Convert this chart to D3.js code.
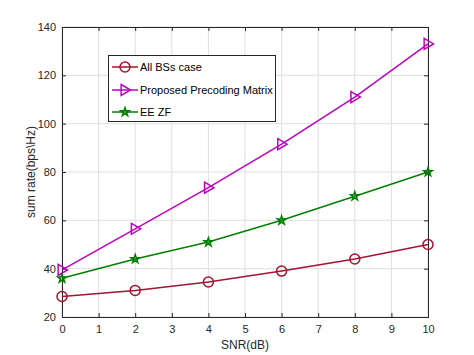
<!DOCTYPE html>
<html><head><meta charset="utf-8">
<script src="https://cdn.jsdelivr.net/npm/d3@7"></script>
<style>body{margin:0;background:#fff}svg{display:block}text{font-family:Arial,"Liberation Sans",sans-serif}</style>
</head><body>
<svg id="c" width="474" height="355"></svg>
<script>
const snr = [0, 2, 4, 6, 8, 10];
const allBS = [28.5, 31, 34.5, 39, 44, 50];
const proposed = [39.5, 56.5, 73.5, 91.5, 111, 133];
const eeZF = [36, 44, 51, 60, 70, 80];
const xTicks = [0,1,2,3,4,5,6,7,8,9,10];
const yTicks = [20,40,60,80,100,120,140];
const seriesNames = ["All BSs case", "Proposed Precoding Matrix", "EE ZF"];

const svg = d3.select("#c");
const L = 62, R = 428, T = 27, B = 317;
const x = d3.scaleLinear().domain([0,10]).range([L,R]);
const y = d3.scaleLinear().domain([20,140]).range([B,T]);

// grid
svg.append("g").selectAll("line").data(xTicks).join("line")
  .attr("x1",d=>x(d)).attr("x2",d=>x(d)).attr("y1",T).attr("y2",B)
  .attr("stroke","#dfdfdf").attr("stroke-width",1);
svg.append("g").selectAll("line").data(yTicks).join("line")
  .attr("y1",d=>y(d)).attr("y2",d=>y(d)).attr("x1",L).attr("x2",R)
  .attr("stroke","#dfdfdf").attr("stroke-width",1);

// axes
const xa = svg.append("g").attr("transform",`translate(0,${B})`)
  .call(d3.axisBottom(x).tickValues(xTicks).tickSize(-4).tickPadding(8));
const xa2 = svg.append("g").attr("transform",`translate(0,${T})`)
  .call(d3.axisTop(x).tickValues(xTicks).tickSize(-4).tickFormat(""));
const ya = svg.append("g").attr("transform",`translate(${L},0)`)
  .call(d3.axisLeft(y).tickValues(yTicks).tickSize(-4).tickPadding(6));
const ya2 = svg.append("g").attr("transform",`translate(${R},0)`)
  .call(d3.axisRight(y).tickValues(yTicks).tickSize(-4).tickFormat(""));
[xa,xa2,ya,ya2].forEach(g=>{
  g.select(".domain").attr("stroke","#262626").attr("stroke-width",1);
  g.selectAll(".tick line").attr("stroke","#262626");
  g.selectAll("text").attr("fill","#262626").style("font-size","11px").style("font-family","Arial, 'Liberation Sans', sans-serif");
});

// labels
svg.append("text").attr("x",(L+R)/2).attr("y",349).attr("text-anchor","middle")
  .attr("fill","#262626").style("font-size","12px").text("SNR(dB)");
svg.append("text").attr("transform",`translate(35,${(T+B)/2}) rotate(-90)`).attr("text-anchor","middle")
  .attr("fill","#262626").style("font-size","12px").text("sum rate(bps\\Hz)");

const colors = ["#A2142F","#C000C0","#008000"];
const data = [allBS, proposed, eeZF];
const line = d3.line().x((d,i)=>x(snr[i])).y(d=>y(d));

function marker(g, type, cx, cy, col){
  if(type===0){
    g.append("circle").attr("cx",cx).attr("cy",cy).attr("r",5).attr("fill","none").attr("stroke",col).attr("stroke-width",1.5);
  } else if(type===1){
    const s=5.5;
    g.append("path").attr("d",`M${cx-s*0.7},${cy-s} L${cx+s},${cy} L${cx-s*0.7},${cy+s} Z`)
      .attr("fill","none").attr("stroke",col).attr("stroke-width",1.5);
  } else {
    g.append("path").attr("transform",`translate(${cx},${cy})`)
      .attr("d",d3.symbol(d3.symbolStar,22)())
      .attr("fill","none").attr("stroke",col).attr("stroke-width",1.5);
  }
}

data.forEach((arr,k)=>{
  const g = svg.append("g");
  g.append("path").datum(arr).attr("d",line).attr("fill","none").attr("stroke",colors[k]).attr("stroke-width",1.5);
  arr.forEach((v,i)=>marker(g,k,x(snr[i]),y(v),colors[k]));
});

// legend
const lg = svg.append("g");
lg.append("rect").attr("x",108.5).attr("y",55.5).attr("width",167).attr("height",66)
  .attr("fill","#fff").attr("stroke","#262626").attr("stroke-width",1);
const ly = [67, 90, 112];
seriesNames.forEach((n,k)=>{
  lg.append("line").attr("x1",112).attr("x2",138).attr("y1",ly[k]).attr("y2",ly[k]).attr("stroke",colors[k]).attr("stroke-width",1.5);
  marker(lg,k,125,ly[k],colors[k]);
  lg.append("text").attr("x",140).attr("y",ly[k]+4).attr("fill","#000").style("font-size","11px").text(n);
});
</script>
</body></html>
